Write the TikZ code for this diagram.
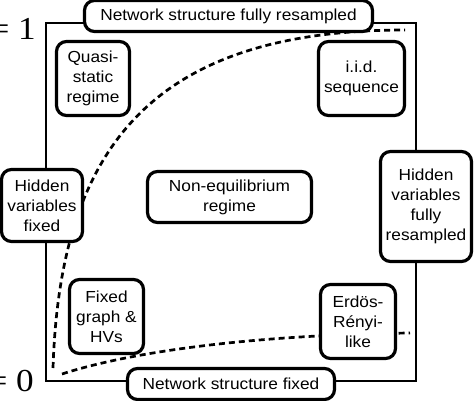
\documentclass[tikz,border=0pt]{standalone}
\usepackage{fontspec}
\setmainfont{Liberation Sans}[FakeStretch=1.08]
\newfontfamily\eqfont{Liberation Serif}[FakeStretch=1.1]
\begin{document}
\begin{tikzpicture}[x=1pt, y=-1pt,
    regime/.style={rectangle, draw, line width=3.2pt, rounded corners=10pt, fill=white, align=center, inner sep=2pt, font=\fontsize{16}{20}\selectfont},
    value/.style={inner sep=0pt, anchor=base east, font=\eqfont\fontsize{32}{36}\selectfont},
    frontier/.style={line width=2.7pt, dash pattern=on 6pt off 4pt}
]
    \useasboundingbox (0,0) rectangle (474,401);

    % Parameter square
    \draw[line width=2.8pt] (46,23) rectangle (416,381);

    % Boundaries of the regimes
    \coordinate (upstart) at (53,368);
    \coordinate (upend) at (405,30);
    \coordinate (lowstart) at (62,374);
    \coordinate (lowend) at (410,333);
    \draw[frontier] (upstart) .. controls (60,150) and (150,30) .. (upend);
    \draw[frontier] (lowstart) .. controls (130,352) and (250,335) .. (lowend);

    % Sides of the square
    \node[regime, minimum width=288pt, minimum height=31pt] (resampled) at (228.5,16) {Network structure fully resampled};
    \node[regime, minimum width=207pt, minimum height=31pt] (fixed) at (231,384) {Network structure fixed};
    \node[regime, minimum width=81pt, minimum height=72pt] (hvfixed) at (42,205.5) {Hidden\\variables\\fixed};
    \node[regime, minimum width=91pt, minimum height=110pt] (hvresampled) at (426,206.5) {Hidden\\variables\\fully\\resampled};

    % Regimes
    \node[regime, minimum width=73pt, minimum height=74pt] (quasi) at (93,78.5) {Quasi-\\static\\regime};
    \node[regime, minimum width=86pt, minimum height=74pt] (iid) at (361.5,78.5) {i.i.d.\\sequence};
    \node[regime, minimum width=164pt, minimum height=51pt] (noneq) at (229.5,197) {Non-equilibrium\\regime};
    \node[regime, minimum width=74pt, minimum height=74pt] (fixedgraph) at (106.5,316.5) {Fixed\\graph \&\\HVs};
    \node[regime, minimum width=75pt, minimum height=74pt] (erdos) at (358,321.5) {Erdös-\\Rényi-\\like};

    % Axis values
    \node[value] (one) at (36,40) {= 1};
    \node[value] (zero) at (34,391) {= 0};
\end{tikzpicture}
\end{document}
